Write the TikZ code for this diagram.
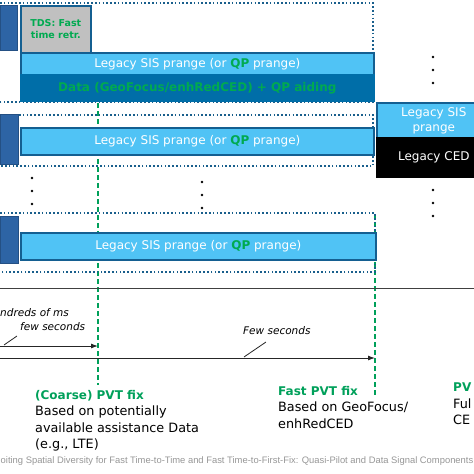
\documentclass[tikz,border=0pt]{standalone}
\usepackage{fontspec}
\setmainfont{DejaVu Sans}
\newfontfamily\capfont{Liberation Sans}
\usetikzlibrary{positioning, arrows.meta}

\definecolor{satblue}{RGB}{45,100,165}
\definecolor{edgeblue}{RGB}{20,95,145}
\definecolor{sisblue}{RGB}{80,195,245}
\definecolor{datablue}{RGB}{0,110,168}
\definecolor{dotblue}{RGB}{25,95,140}
\definecolor{qpgreen}{RGB}{0,170,80}
\definecolor{fixgreen}{RGB}{0,160,90}
\definecolor{tdsgray}{RGB}{192,192,192}
\definecolor{capgray}{RGB}{150,150,150}

\newcommand\sistext{Legacy SIS prange (or \textcolor{qpgreen}{\textbf{QP}} prange)}
\newcommand\fixtitle[1]{{\color{fixgreen}\fontsize{12}{16.5}\selectfont\bfseries #1}}

\tikzset{
  frame/.style = {draw=dotblue, line width=1.8pt, dash pattern=on 1.6pt off 2.2pt},
  sat/.style = {fill=satblue, draw=satblue!80!black, line width=0.8pt, anchor=north west, inner sep=0pt},
  tds/.style = {fill=tdsgray, draw=edgeblue, line width=1.6pt, anchor=north west, inner sep=0pt,
    align=center, text=qpgreen, font=\fontsize{9.5}{12}\selectfont\bfseries},
  bar/.style = {fill=sisblue, draw=edgeblue, line width=1.6pt, anchor=north west, inner sep=0pt,
    align=center, text=white, font=\fontsize{12}{15}\selectfont},
  databar/.style = {bar, fill=datablue, draw=datablue, text=qpgreen, font=\fontsize{12}{15}\selectfont\bfseries},
  cedbar/.style = {bar, fill=black, draw=black},
  fixline/.style = {draw=fixgreen, line width=1.4pt, dash pattern=on 5pt off 3pt},
  axis/.style = {draw=black!75, line width=0.9pt},
  timearrow/.style = {draw=black!85, line width=0.9pt, ->},
  lbl/.style = {inner sep=0pt, font=\fontsize{10.5}{13}\selectfont\itshape},
  fix/.style = {inner sep=0pt, anchor=north west, align=left, font=\fontsize{12.8}{16.5}\selectfont},
  caption/.style = {inner sep=0pt, text=capgray, font=\capfont\fontsize{9.4}{11}\selectfont}
}

\begin{document}
\begin{tikzpicture}[x=1pt, y=-1pt, >={Latex[length=7pt,width=5pt]}]
  \useasboundingbox (0,0) rectangle (474,474);

  % fix instants (behind the bars)
  \coordinate (g1top) at (98,103);
  \coordinate (g1bot) at (98,385);
  \coordinate (g2top) at (375,214);
  \coordinate (g2bot) at (375,397);
  \draw[fixline] (g1top) -- (g1bot);
  \draw[fixline] (g2top) -- (g2bot);

  % dotted frames
  \draw[frame] (0,3) -| (373,102) -- (0,102);
  \draw[frame] (0,115) -| (373,166) -- (0,166);
  \draw[frame] (0,213) -| (375,272) -- (0,272);

  % first satellite
  \node[sat, minimum width=17pt, minimum height=45pt] (sat1) at (0,5) {};
  \node[tds, minimum width=70pt, minimum height=47pt] (tds) at (20,5) {TDS: Fast\\time retr.};
  \node[bar, minimum width=353pt, minimum height=22pt] (sis1) at (20,52) {\sistext};
  \node[databar, minimum width=353pt, minimum height=26pt] (data1) at (20,74) {Data (GeoFocus/enhRedCED) + QP aiding};

  % second satellite
  \node[sat, minimum width=18pt, minimum height=50pt] (sat2) at (0,114) {};
  \node[bar, minimum width=353pt, minimum height=27pt] (sis2) at (20,127) {\sistext};

  % last satellite
  \node[sat, minimum width=18pt, minimum height=47pt] (sat3) at (0,216) {};
  \node[bar, minimum width=355pt, minimum height=27pt] (sis3) at (20,232) {\sistext};

  % legacy signal
  \node[bar, minimum width=114pt, minimum height=35pt] (legsis) at (376,102) {Legacy SIS\\prange};
  \node[cedbar, minimum width=114pt, minimum height=39pt] (legced) at (376,137) {Legacy CED};

  % dots
  \foreach \x/\y in {433/57, 32/178, 202/182, 433/190}
    \foreach \d in {0,13,26}
      \fill (\x,\y+\d) circle (1.3pt);

  % time axis
  \coordinate (axl) at (0,288);
  \coordinate (axr) at (474,288);
  \draw[axis] (axl) -- (axr);

  \coordinate (t1) at (0,346);
  \coordinate (t2) at (0,358);
  \draw[timearrow] (t1) -- (t1 -| g1top);
  \draw[timearrow] (t2) -- (t2 -| g2top);

  \node[lbl, anchor=west] (ms) at (0,313) {ndreds of ms};
  \node[lbl, anchor=west] (few) at (20,327) {few seconds};
  \node[lbl, anchor=west] (sec) at (243,331) {Few seconds};
  \coordinate (l1a) at (4,345);
  \coordinate (l1b) at (17,336);
  \coordinate (l2a) at (244,357);
  \coordinate (l2b) at (266,342);
  \draw[black!85, line width=0.8pt] (l1a) -- (l1b);
  \draw[black!85, line width=0.8pt] (l2a) -- (l2b);

  % fixes
  \node[fix] (coarse) at (35,390) {\fixtitle{(Coarse) PVT fix}\\
    Based on potentially\\available assistance Data\\(e.g., LTE)};
  \node[fix] (fast) at (278,386) {\fixtitle{Fast PVT fix}\\
    Based on GeoFocus/\\enhRedCED};
  \node[fix] (full) at (453,383) {\fixtitle{PV}\\Ful\\CE};

  \node[caption] (cap) at (237,461) {oiting Spatial Diversity for Fast Time-to-Time and Fast Time-to-First-Fix: Quasi-Pilot and Data Signal Components};
\end{tikzpicture}
\end{document}
